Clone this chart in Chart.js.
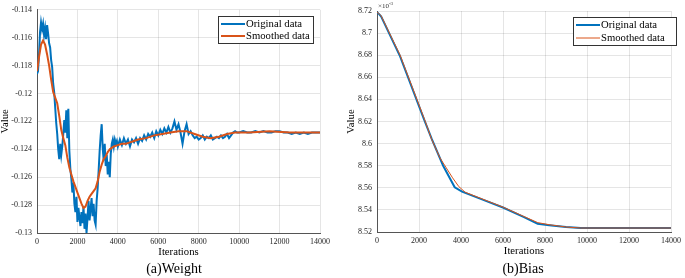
<!DOCTYPE html>
<html>
<head>
<meta charset="utf-8">
<script src="https://cdn.jsdelivr.net/npm/chart.js@4.4.1/dist/chart.umd.min.js"></script>
<style>
  body { margin: 0; background: #fff; }
  #wrap { position: relative; width: 685px; height: 278px; }
  canvas { position: absolute; top: 0; }
  .cap { position: absolute; top: 261px; font: 14px/16px "Liberation Serif", serif; color: #000; transform: translateX(-50%); white-space: nowrap; }
</style>
</head>
<body>
<div id="wrap">
  <canvas id="weightChart" width="340" height="278" style="left:0"></canvas>
  <canvas id="biasChart" width="345" height="278" style="left:340px"></canvas>
  <div class="cap" style="left:174px">(a)Weight</div>
  <div class="cap" style="left:523px">(b)Bias</div>
</div>
<script>
// x axis (iterations), shared by both plots
var xTicks = [0, 2000, 4000, 6000, 8000, 10000, 12000, 14000];
var xTickLabels = ['0', '2000', '4000', '6000', '8000', '10000', '12000', '14000'];

// (a) Weight - original data
var weightIter = [0, 50, 100, 150, 200, 250, 300, 350, 400, 450, 500, 550, 600, 650, 700, 750, 800, 850, 900, 950,
  1000, 1050, 1100, 1150, 1200, 1250, 1300, 1350, 1400, 1450, 1500, 1550, 1600, 1650, 1700, 1750, 1800, 1850, 1900, 1950,
  2000, 2050, 2100, 2150, 2200, 2250, 2300, 2350, 2400, 2450, 2500, 2550, 2600, 2650, 2700, 2750, 2800, 2850, 2900, 2950,
  3000, 3050, 3100, 3150, 3200, 3250, 3300, 3350, 3400, 3450, 3500, 3550, 3600, 3650, 3700, 3750, 3800, 3850, 3900, 3950,
  4000, 4100, 4200, 4300, 4400, 4500, 4600, 4700, 4800, 4900, 5000, 5100, 5200, 5300, 5400, 5500, 5600, 5700, 5800, 5900,
  6000, 6100, 6200, 6300, 6400, 6500, 6600, 6700, 6800, 6900, 7000, 7100, 7200, 7300, 7400, 7500, 7600, 7700, 7800, 7900,
  8000, 8100, 8200, 8300, 8400, 8500, 8600, 8700, 8800, 8900, 9000, 9100, 9200, 9300, 9400, 9500, 9600, 9700, 9800, 9900,
  10000, 10200, 10400, 10600, 10800, 11000, 11200, 11400, 11600, 11800, 12000, 12200, 12400, 12600, 12800, 13000, 13200, 13400, 13600, 13800, 14000];
var weightOriginal = [-0.1186, -0.1184, -0.1172, -0.1156, -0.1149, -0.1154, -0.1150, -0.1158, -0.1153, -0.1161, -0.1151, -0.1157, -0.1164, -0.1167, -0.1176, -0.1181, -0.1193, -0.1199, -0.1210, -0.1221,
  -0.1229, -0.1240, -0.1247, -0.1236, -0.1244, -0.1238, -0.1229, -0.1219, -0.1228, -0.1212, -0.1232, -0.1211, -0.1241, -0.1254, -0.1261, -0.1271, -0.1264, -0.1279, -0.1285, -0.1274,
  -0.1292, -0.1282, -0.1289, -0.1295, -0.1285, -0.1293, -0.1281, -0.1297, -0.1286, -0.1300, -0.1289, -0.1277, -0.1291, -0.1283, -0.1275, -0.1288, -0.1279, -0.1291, -0.1294, -0.1277,
  -0.1268, -0.1255, -0.1241, -0.1230, -0.1222, -0.1239, -0.1248, -0.1236, -0.1252, -0.1244, -0.1258, -0.1249, -0.1260, -0.1243, -0.1236, -0.1233, -0.1238, -0.1233, -0.1236, -0.1234,
  -0.1238, -0.1233, -0.1237, -0.1232, -0.1236, -0.1233, -0.1238, -0.1233, -0.1235, -0.1232, -0.1236, -0.1232, -0.1234, -0.1230, -0.1233, -0.1229, -0.1231, -0.1228, -0.1232, -0.1227,
  -0.1230, -0.1226, -0.1229, -0.1225, -0.1228, -0.1224, -0.1228, -0.1225, -0.1220, -0.1226, -0.1222, -0.1228, -0.1236, -0.1227, -0.1222, -0.1229, -0.1227, -0.1230, -0.1232, -0.1231,
  -0.1233, -0.1232, -0.1230, -0.1233, -0.1231, -0.1232, -0.1230, -0.1233, -0.1232, -0.1231, -0.1232, -0.1230, -0.1232, -0.1231, -0.1229, -0.1232, -0.1230, -0.1228, -0.1227, -0.1228,
  -0.1228, -0.1227, -0.1228, -0.1228, -0.1227, -0.1228, -0.1227, -0.1228, -0.1228, -0.1227, -0.1227, -0.1228, -0.1228, -0.1229, -0.1228, -0.1229, -0.1228, -0.1229, -0.1228, -0.1228, -0.1228];

// (a) Weight - smoothed data
var weightSmoothIter = [0, 100, 200, 300, 400, 500, 600, 700, 800, 900, 1000, 1100, 1200, 1300, 1400, 1500, 1600, 1700, 1800, 1900,
  2000, 2100, 2200, 2300, 2400, 2500, 2600, 2700, 2800, 2900, 3000, 3100, 3200, 3300, 3400, 3500, 3600, 3700, 3800, 4000,
  4200, 4400, 4600, 4800, 5000, 5400, 5800, 6200, 6600, 7000, 7400, 7800, 8200, 8600, 9000, 9400, 9800, 10500, 11500, 12500, 13500, 14000];
var weightSmooth = [-0.1184, -0.1174, -0.1165, -0.1162, -0.1165, -0.1172, -0.1180, -0.1190, -0.1199, -0.1203, -0.1207, -0.1216, -0.1226, -0.1232, -0.1237, -0.1246, -0.1253, -0.1258, -0.1263, -0.1267,
  -0.1271, -0.1275, -0.1279, -0.1282, -0.1281, -0.1277, -0.1274, -0.1272, -0.1270, -0.1268, -0.1263, -0.1256, -0.1251, -0.1247, -0.1245, -0.1242, -0.1240, -0.1239, -0.1238, -0.1237,
  -0.1236, -0.1236, -0.1235, -0.1234, -0.1233, -0.1232, -0.1230, -0.1229, -0.1228, -0.1227, -0.1227, -0.1229, -0.1231, -0.1232, -0.1231, -0.1229, -0.1228, -0.1228, -0.1227, -0.1228, -0.1228, -0.1228];

var weightYTicks = [-0.13, -0.128, -0.126, -0.124, -0.122, -0.12, -0.118, -0.116, -0.114];
var weightYLabels = ['-0.13', '-0.128', '-0.126', '-0.124', '-0.122', '-0.12', '-0.118', '-0.116', '-0.114'];

// (b) Bias, values in units of 1e-3
var biasIter = [0, 100, 200, 1100, 2250, 2600, 3150, 3700, 4050, 5000, 6000, 7000, 7650, 8200, 9000, 9700, 14000];
var biasOriginal = [8.7188, 8.7172, 8.7150, 8.6790, 8.6215, 8.6045, 8.5800, 8.5605, 8.5565, 8.5495, 8.5422, 8.5335, 8.5275, 8.5262, 8.5245, 8.5237, 8.5237];
var biasSmoothIter = [0, 100, 200, 1100, 2250, 2600, 3000, 3300, 3600, 3900, 4200, 5000, 6000, 7000, 7650, 8200, 9000, 9700, 14000];
var biasSmooth = [8.7188, 8.7175, 8.7155, 8.6800, 8.6225, 8.6040, 8.5870, 8.5780, 8.5690, 8.5610, 8.5560, 8.5500, 8.5425, 8.5340, 8.5285, 8.5266, 8.5245, 8.5236, 8.5236];

var biasYTicks = [8.52, 8.54, 8.56, 8.58, 8.6, 8.62, 8.64, 8.66, 8.68, 8.7, 8.72];
var biasYLabels = ['8.52', '8.54', '8.56', '8.58', '8.6', '8.62', '8.64', '8.66', '8.68', '8.7', '8.72'];

var BLUE = '#0072BD';
var RED = '#D95319';
var SERIF = '"Liberation Serif", "Times New Roman", serif';

function points(xs, ys) {
    return xs.map(function (x, i) { return { x: x, y: ys[i] }; });
}

// matlab-like legend box drawn inside the plot
var boxLegend = {
    id: 'boxLegend',
    afterDraw: function (chart) {
        var o = chart.options.plugins.boxLegend;
        var ctx = chart.ctx;
        ctx.save();
        ctx.fillStyle = '#fff';
        ctx.fillRect(o.x, o.y, o.w, o.h);
        ctx.strokeStyle = '#333';
        ctx.lineWidth = 1;
        ctx.strokeRect(o.x + 0.5, o.y + 0.5, o.w, o.h);
        ctx.font = '10.7px ' + SERIF;
        ctx.textBaseline = 'middle';
        chart.data.datasets.forEach(function (ds, i) {
            var y = o.y + o.rows[i];
            ctx.strokeStyle = ds.borderColor;
            ctx.lineWidth = ds.borderWidth;
            ctx.beginPath();
            ctx.moveTo(o.x + 3, y);
            ctx.lineTo(o.x + 27, y);
            ctx.stroke();
            ctx.fillStyle = '#000';
            ctx.fillText(ds.label, o.x + 28, y + 0.5);
        });
        ctx.restore();
    }
};

// the x10^-3 note above the bias axis
var expNote = {
    id: 'expNote',
    afterDraw: function (chart) {
        if (!chart.options.plugins.expNote.show) return;
        var ctx = chart.ctx;
        var a = chart.chartArea;
        ctx.save();
        ctx.fillStyle = '#333';
        ctx.textBaseline = 'alphabetic';
        ctx.font = '7px ' + SERIF;
        ctx.fillText('\u00d710', a.left + 1, a.top - 3);
        var w = ctx.measureText('\u00d710').width;
        ctx.font = '5px ' + SERIF;
        ctx.fillText('-3', a.left + 1 + w, a.top - 6);
        ctx.restore();
    }
};

function makeChart(id, cfg) {
    var ctx = document.getElementById(id).getContext('2d');
    return new Chart(ctx, {
        type: 'line',
        data: {
            datasets: [{
                label: 'Original data',
                data: points(cfg.origX, cfg.origY),
                borderColor: BLUE,
                borderWidth: 2,
                order: 1
            }, {
                label: 'Smoothed data',
                data: points(cfg.smoothX, cfg.smoothY),
                borderColor: RED,
                borderWidth: cfg.redWidth,
                order: 0
            }]
        },
        plugins: [boxLegend, expNote],
        options: {
            responsive: false,
            animation: false,
            devicePixelRatio: 1,
            elements: { point: { radius: 0 }, line: { tension: 0 } },
            layout: { padding: cfg.padding },
            plugins: {
                legend: { display: false },
                tooltip: { enabled: false },
                boxLegend: cfg.legend,
                expNote: { show: cfg.exp }
            },
            scales: {
                x: {
                    type: 'linear',
                    min: 0,
                    max: 14000,
                    afterBuildTicks: function (s) { s.ticks = xTicks.map(function (v) { return { value: v }; }); },
                    afterFit: function (s) { s.height = 26; },
                    ticks: {
                        padding: 4,
                        maxRotation: 0,
                        color: '#262626',
                        font: { family: SERIF, size: 8 },
                        callback: function (v, i) { return xTickLabels[i]; }
                    },
                    grid: { color: 'rgba(0,0,0,0.1)', drawTicks: false },
                    border: { color: '#555' },
                    title: {
                        display: true,
                        text: 'Iterations',
                        color: '#000',
                        font: { family: SERIF, size: 10.7 },
                        padding: 0
                    }
                },
                y: {
                    min: cfg.yTicks[0],
                    max: cfg.yTicks[cfg.yTicks.length - 1],
                    afterBuildTicks: function (s) { s.ticks = cfg.yTicks.map(function (v) { return { value: v }; }); },
                    afterFit: function (s) { s.width = 37; },
                    ticks: {
                        padding: 5,
                        color: '#262626',
                        font: { family: SERIF, size: 8 },
                        callback: function (v, i) { return cfg.yLabels[i]; }
                    },
                    grid: { color: 'rgba(0,0,0,0.1)', drawTicks: false },
                    border: { color: '#555' },
                    title: {
                        display: true,
                        text: 'Value',
                        color: '#000',
                        font: { family: SERIF, size: 10.7, lineHeight: 1 },
                        padding: { top: cfg.titlePad, bottom: 0 }
                    }
                }
            }
        }
    });
}

makeChart('weightChart', {
    origX: weightIter, origY: weightOriginal,
    smoothX: weightSmoothIter, smoothY: weightSmooth,
    yTicks: weightYTicks, yLabels: weightYLabels,
    redWidth: 2,
    padding: { top: 9, right: 20, bottom: 19, left: 0 },
    titlePad: 0,
    legend: { x: 218, y: 16, w: 95, h: 27, rows: [8, 20] },
    exp: false
});

makeChart('biasChart', {
    origX: biasIter, origY: biasOriginal,
    smoothX: biasSmoothIter, smoothY: biasSmooth,
    yTicks: biasYTicks, yLabels: biasYLabels,
    redWidth: 1,
    padding: { top: 11, right: 11, bottom: 20, left: 0 },
    titlePad: 5.5,
    legend: { x: 233, y: 17, w: 103, h: 28, rows: [8, 21] },
    exp: true
});
</script>
</body>
</html>
